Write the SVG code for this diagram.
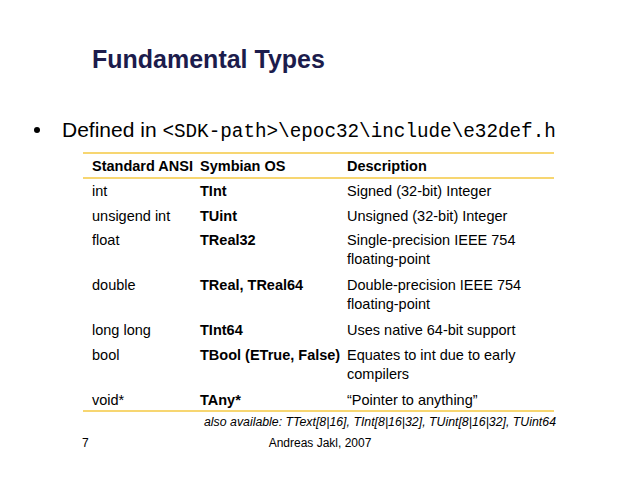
<svg xmlns="http://www.w3.org/2000/svg" width="638" height="478" viewBox="0 0 638 478">
<style>
text{font-family:"Liberation Sans",Arial,sans-serif;fill:#000}
.t{font-size:14.5px}
.b{font-weight:bold}
.ln{stroke:#f5c842;stroke-width:1.5}
</style>
<rect width="638" height="478" fill="#fff"/>
<g id="title"><text x="92" y="68" font-size="25" font-weight="bold" style="fill:#1c1c4c">Fundamental Types</text></g>
<g id="bullet">
<circle cx="37" cy="130" r="3" fill="#000"/>
<text x="62" y="137" font-size="21">Defined in <tspan font-family="Liberation Mono, monospace" font-size="19.3">&lt;SDK-path&gt;\epoc32\include\e32def.h</tspan></text>
</g>
<g id="table">
<line class="ln" x1="83" y1="153" x2="554" y2="153"/>
<line class="ln" x1="83" y1="178" x2="554" y2="178"/>
<line class="ln" x1="83" y1="411" x2="554" y2="411"/>
<text class="t b" x="92" y="171">Standard ANSI</text><text class="t b" x="200" y="171">Symbian OS</text><text class="t b" x="347" y="171">Description</text>
<text class="t" x="92" y="196">int</text><text class="t b" x="200" y="196">TInt</text><text class="t" x="347" y="196">Signed (32-bit) Integer</text>
<text class="t" x="92" y="221">unsigend int</text><text class="t b" x="200" y="221">TUint</text><text class="t" x="347" y="221">Unsigned (32-bit) Integer</text>
<text class="t" x="92" y="245">float</text><text class="t b" x="200" y="245">TReal32</text><text class="t" x="347" y="245">Single-precision IEEE 754</text><text class="t" x="347" y="264">floating-point</text>
<text class="t" x="92" y="290">double</text><text class="t b" x="200" y="290">TReal, TReal64</text><text class="t" x="347" y="290">Double-precision IEEE 754</text><text class="t" x="347" y="309">floating-point</text>
<text class="t" x="92" y="335">long long</text><text class="t b" x="200" y="335">TInt64</text><text class="t" x="347" y="335">Uses native 64-bit support</text>
<text class="t" x="92" y="360">bool</text><text class="t b" x="200" y="360">TBool (ETrue, False)</text><text class="t" x="347" y="360">Equates to int due to early</text><text class="t" x="347" y="379">compilers</text>
<text class="t" x="92" y="405">void*</text><text class="t b" x="200" y="405">TAny*</text><text class="t" x="347" y="405">“Pointer to anything”</text>
</g>
<g id="note"><text x="204" y="426" font-size="12.5" font-style="italic" textLength="352" lengthAdjust="spacingAndGlyphs">also available: TText[8|16], TInt[8|16|32], TUint[8|16|32], TUint64</text></g>
<g id="footer"><text x="82" y="447" font-size="12">7</text><text x="320" y="447" font-size="12" text-anchor="middle">Andreas Jakl, 2007</text></g>
</svg>
